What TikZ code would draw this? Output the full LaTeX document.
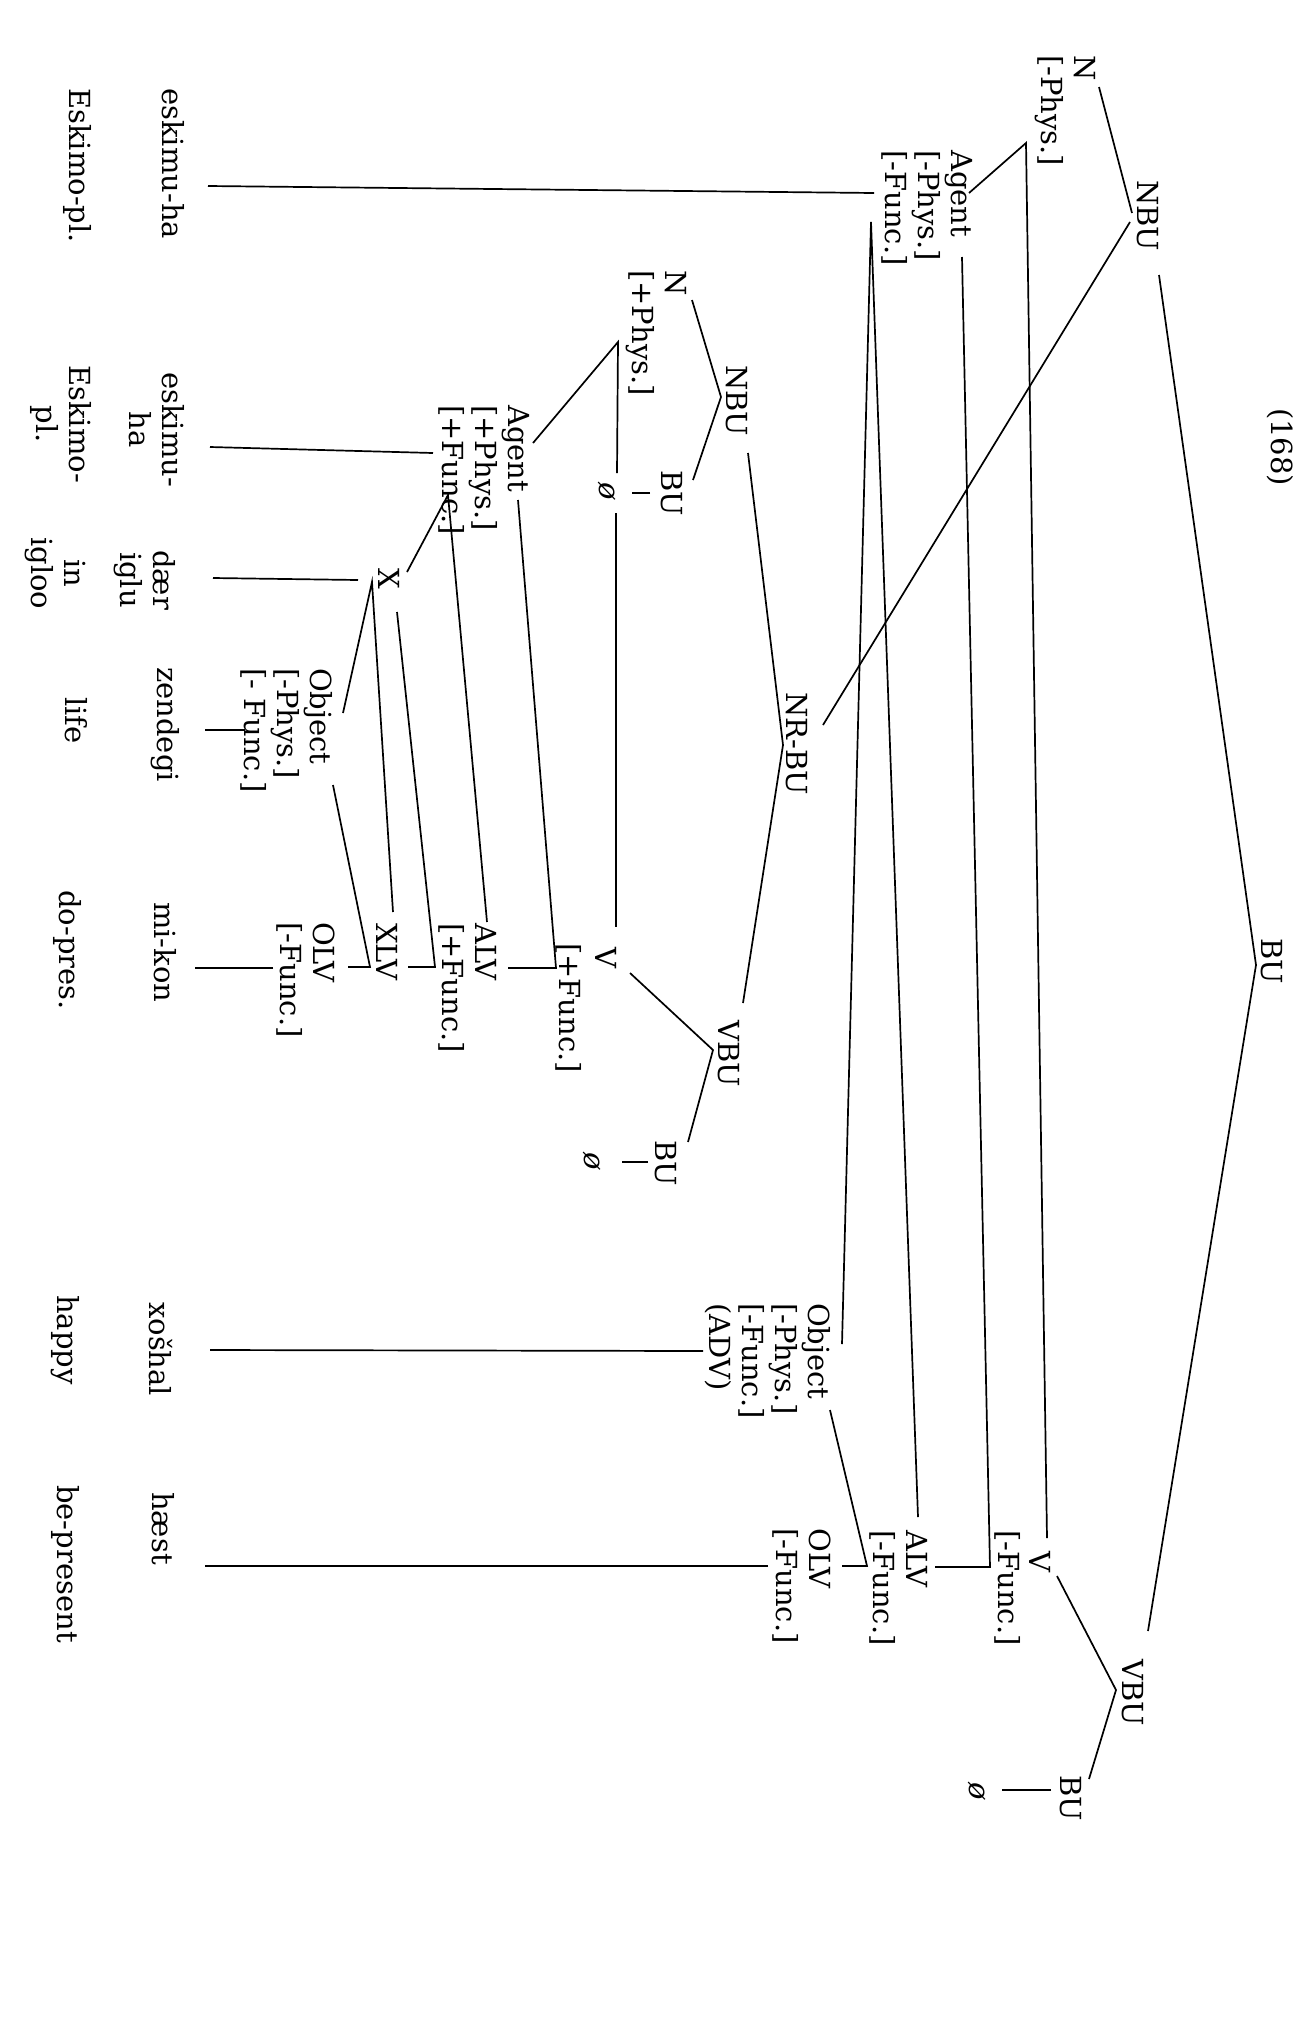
\documentclass[tikz,border=0pt]{standalone}
\usepackage{fontspec}
\setmainfont{DejaVu Serif}
\newcommand{\nullsym}{{\itshape ø}}
\begin{document}
\begin{tikzpicture}[x={(1pt,0)},y={(0,-1pt)},
  lab/.style={rotate=-90,anchor=north west,inner sep=0pt,align=left,font=\fontsize{29}{33}\selectfont},
  labc/.style={lab,align=center},
  ln/.style={line width=1.7pt}]
\useasboundingbox (0,0) rectangle (1311,2043);
% ---------- labels, top tree
\node[lab] (fig) at (1294,408) {(168)};
\node[lab] (N1) at (1096,55) {N\\{}[-Phys.]};
\node[lab] (NBU1) at (1159,180) {NBU};
\node[lab] (BU1) at (1283,938) {BU};
\node[lab] (Ag1) at (973,150) {Agent\\{}[-Phys.]\\{}[-Func.]};
\node[lab] (V1) at (1051,1551) {V};
\node[lab] (V1f) at (1021,1530) {[-Func.]};
\node[lab] (ALV1) at (928,1530) {ALV\\{}[-Func.]};
\node[lab] (OLV1) at (831,1528) {OLV\\{}[-Func.]};
\node[lab] (Obj1) at (831,1303) {Object\\{}[-Phys.]\\{}[-Func.]\\(ADV)};
\node[lab] (VBU1) at (1144,1659) {VBU};
\node[lab] (BU1b) at (1082,1775) {BU};
\node[lab] (phi1) at (986,1782) {\nullsym};
\node[lab] (NRBU) at (808,692) {NR-BU};
% ---------- labels, lower tree
\node[lab] (N2) at (687,270) {N\\{}[+Phys.]};
\node[lab] (NBU2) at (748,365) {NBU};
\node[lab] (BU2) at (683,470) {BU};
\node[lab] (phi2) at (616,482) {\nullsym};
\node[lab] (Ag2) at (530,405) {Agent\\{}[+Phys.]\\{}[+Func.]};
\node[lab] (V2) at (617,947) {V};
\node[lab] (V2f) at (582,943) {[+Func.]};
\node[lab] (ALV2) at (497,923) {ALV\\{}[+Func.]};
\node[lab] (X) at (400,568) {X};
\node[lab] (Obj2) at (333,668) {Object\\{}[-Phys.]\\{}[- Func.]};
\node[lab] (XLV) at (398,923) {XLV};
\node[lab] (OLV2) at (335,922) {OLV\\{}[-Func.]};
\node[lab] (VBU2) at (740,1020) {VBU};
\node[lab] (BU2b) at (677,1140) {BU};
\node[lab] (phi2b) at (601,1152) {\nullsym};
% ---------- glosses
\node[lab] (g1a) at (185,88) {eskimu-ha};
\node[lab] (g1b) at (92,88) {Eskimo-pl.};
\node[labc] (g2a) at (185,372) {eskimu-\\ha};
\node[labc] (g2b) at (92,365) {Eskimo-\\pl.};
\node[labc] (g3a) at (176,550) {dær\\iglu};
\node[labc] (g3b) at (86,537) {in\\igloo};
\node[lab] (g4a) at (180,667) {zendegi};
\node[lab] (g4b) at (88,697) {life};
\node[lab] (g5a) at (177,902) {mi-kon};
\node[lab] (g5b) at (82,890) {do-pres.};
\node[lab] (g6a) at (173,1302) {xošhal};
\node[lab] (g6b) at (80,1295) {happy};
\node[lab] (g7a) at (175,1492) {hæst};
\node[lab] (g7b) at (80,1485) {be-present};
% ---------- connector points, top tree
\coordinate (a1) at (1099,87);   \coordinate (nbu1) at (1132,213);
\coordinate (nbu1a) at (1130,222); \coordinate (nr1) at (823,725);
\coordinate (nbu1b) at (1159,275); \coordinate (bu1) at (1256,965);
\coordinate (vbu1t) at (1148,1631);
\coordinate (ph1) at (1026,143); \coordinate (ag1r) at (969,193);
\coordinate (v1t) at (1047,1538);
\coordinate (ag1l) at (874,193); \coordinate (e1) at (208,186);
\coordinate (ag1b) at (962,257); \coordinate (c1) at (990,1567); \coordinate (alv1r) at (935,1567);
\coordinate (fa1) at (871,222); \coordinate (obj1r) at (842,1344); \coordinate (alv1t) at (918,1517);
\coordinate (obj1l) at (703,1351); \coordinate (e6) at (210,1350);
\coordinate (obj1b) at (830,1410); \coordinate (c2) at (867,1566); \coordinate (olv1r) at (842,1566);
\coordinate (olv1l) at (768,1566); \coordinate (e7) at (205,1566);
\coordinate (v1b) at (1057,1576); \coordinate (vbu1) at (1116,1690); \coordinate (bu1bt) at (1089,1779);
\coordinate (bu1bl) at (1051,1790); \coordinate (phi1r) at (1002,1790);
% ---------- connector points, lower tree
\coordinate (n2) at (692,300); \coordinate (nbu2) at (721,397); \coordinate (bu2t) at (693,480);
\coordinate (nbu2b) at (748,453); \coordinate (nr2) at (783,745); \coordinate (vbu2t) at (743,1003);
\coordinate (bu2l) at (650,493); \coordinate (phi2r) at (632,493);
\coordinate (pp2) at (618,342); \coordinate (ag2r) at (533,443); \coordinate (phi2t) at (617,473);
\coordinate (phi2b) at (616,513); \coordinate (v2t) at (616,927);
\coordinate (ag2l) at (433,453); \coordinate (e2) at (210,447);
\coordinate (ag2b) at (518,500); \coordinate (c3) at (556,968); \coordinate (alv2r) at (508,968);
\coordinate (fa2) at (448,495); \coordinate (xr) at (407,572); \coordinate (alv2t) at (487,922);
\coordinate (xa) at (372,582); \coordinate (obj2r) at (343,713); \coordinate (xlvt) at (393,912);
\coordinate (xb) at (397,612); \coordinate (c4) at (435,967); \coordinate (xlvr) at (408,967);
\coordinate (xl) at (358,580); \coordinate (e3) at (213,578);
\coordinate (obj2b) at (333,785); \coordinate (c5) at (370,967); \coordinate (olv2r) at (348,967);
\coordinate (olv2l) at (273,968); \coordinate (e5) at (195,968);
\coordinate (obj2l) at (245,730); \coordinate (e4) at (205,730);
\coordinate (v2b) at (630,973); \coordinate (vbu2) at (713,1050); \coordinate (bu2bt) at (688,1142);
\coordinate (bu2bl) at (648,1162); \coordinate (phi2br) at (622,1162);
% ---------- connectors
\draw[ln] (a1) -- (nbu1);
\draw[ln] (nbu1a) -- (nr1);
\draw[ln] (nbu1b) -- (bu1) -- (vbu1t);
\draw[ln] (ag1r) -- (ph1) -- (v1t);
\draw[ln] (ag1l) -- (e1);
\draw[ln] (ag1b) -- (c1) -- (alv1r);
\draw[ln] (obj1r) -- (fa1) -- (alv1t);
\draw[ln] (obj1l) -- (e6);
\draw[ln] (obj1b) -- (c2) -- (olv1r);
\draw[ln] (olv1l) -- (e7);
\draw[ln] (v1b) -- (vbu1) -- (bu1bt);
\draw[ln] (bu1bl) -- (phi1r);
\draw[ln] (n2) -- (nbu2) -- (bu2t);
\draw[ln] (nbu2b) -- (nr2) -- (vbu2t);
\draw[ln] (bu2l) -- (phi2r);
\draw[ln] (ag2r) -- (pp2) -- (phi2t);
\draw[ln] (phi2b) -- (v2t);
\draw[ln] (ag2l) -- (e2);
\draw[ln] (ag2b) -- (c3) -- (alv2r);
\draw[ln] (xr) -- (fa2) -- (alv2t);
\draw[ln] (obj2r) -- (xa) -- (xlvt);
\draw[ln] (xb) -- (c4) -- (xlvr);
\draw[ln] (xl) -- (e3);
\draw[ln] (obj2b) -- (c5) -- (olv2r);
\draw[ln] (olv2l) -- (e5);
\draw[ln] (obj2l) -- (e4);
\draw[ln] (v2b) -- (vbu2) -- (bu2bt);
\draw[ln] (bu2bl) -- (phi2br);
\end{tikzpicture}
\end{document}
